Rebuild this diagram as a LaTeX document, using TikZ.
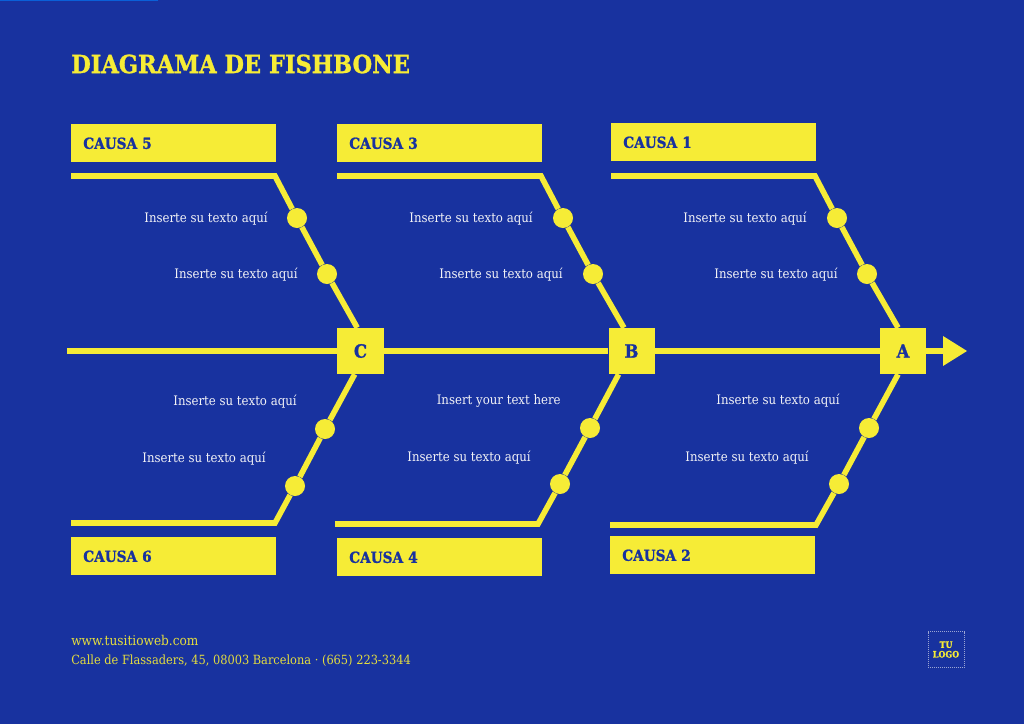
\documentclass[tikz,border=0pt]{standalone}
\usepackage{fontspec}
\setmainfont[BoldFeatures={FakeBold=1.2}]{DejaVu Serif Condensed}
\definecolor{fondo}{HTML}{18329F}
\definecolor{amarillo}{HTML}{F6EC36}
\definecolor{blanco}{HTML}{F2F2F6}
\tikzset{
  causebox/.style={fill=amarillo,text=fondo,anchor=north west,minimum height=.95cm,
    text width=4.525cm,minimum width=5.125cm,inner xsep=.3cm,inner ysep=0pt,align=left,
    font=\fontsize{10.8}{12}\selectfont\bfseries},
  headbox/.style={fill=amarillo,text=fondo,minimum size=1.15cm,inner sep=0pt,
    font=\fontsize{13}{14}\selectfont\bfseries},
  joint/.style={circle,fill=amarillo,minimum size=.5cm,inner sep=0pt},
  note/.style={text=blanco,anchor=east,inner sep=0pt,yshift=-.025cm,font=\fontsize{9.3}{10}\selectfont},
  foot/.style={text=amarillo!92!fondo,anchor=west,inner sep=0pt,yshift=-.025cm,font=\fontsize{9}{10}\selectfont},
  bone/.style={draw=amarillo,line width=.14cm,line join=miter}
}
\begin{document}
\begin{tikzpicture}[x=.025cm,y=-.025cm]
\useasboundingbox (0,0) rectangle (1024,724);
\fill[fondo] (0,0) rectangle (1024,724);
\fill[blue!50!cyan!60!fondo] (0,0) rectangle (158,1);

% title
\node[text=amarillo,anchor=west,inner sep=0pt,font=\fontsize{17.8}{20}\selectfont\bfseries] (title) at (71,64) {DIAGRAMA DE FISHBONE};

% heads
\node[headbox] (A) at (903,351) {A};
\node[headbox] (B) at (631.5,351) {B};
\node[headbox] (C) at (360.5,351) {C};

% the spine
\coordinate (tail) at (67,351);
\coordinate (tip) at (967,351);
\coordinate (tipbase) at (945,351);
\draw[bone] (tail)--(C);
\draw[bone] (C)--(B);
\draw[bone] (B)--(A);
\draw[bone] (A)--(tipbase);
\fill[amarillo] (943,336)--(tip)--(943,366)--cycle;

% causes
\node[causebox] (causa5) at (71,124) {CAUSA 5};
\node[causebox] (causa3) at (337,124) {CAUSA 3};
\node[causebox] (causa1) at (611,123) {CAUSA 1};
\node[causebox] (causa6) at (71,537) {CAUSA 6};
\node[causebox] (causa4) at (337,538) {CAUSA 4};
\node[causebox] (causa2) at (610,536) {CAUSA 2};

% the joints
\node[joint] (j5a) at (297,218) {};
\node[joint] (j5b) at (327,274) {};
\node[joint] (j3a) at (563,218) {};
\node[joint] (j3b) at (593,274) {};
\node[joint] (j1a) at (837,218) {};
\node[joint] (j1b) at (867,274) {};
\node[joint] (j6a) at (325,429) {};
\node[joint] (j6b) at (295,486) {};
\node[joint] (j4a) at (590,428) {};
\node[joint] (j4b) at (560,484) {};
\node[joint] (j2a) at (869,428) {};
\node[joint] (j2b) at (839,484) {};

% upper bones
\coordinate (s5) at (71,176); \coordinate (k5) at (275,176);
\coordinate (s3) at (337,176); \coordinate (k3) at (541,176);
\coordinate (s1) at (611,176); \coordinate (k1) at (815,176);
\draw[bone] (s5)--(k5)--(j5a);
\draw[bone] (j5a)--(j5b);
\draw[bone] (j5b)--(C.98);
\draw[bone] (s3)--(k3)--(j3a);
\draw[bone] (j3a)--(j3b);
\draw[bone] (j3b)--(B.108);
\draw[bone] (s1)--(k1)--(j1a);
\draw[bone] (j1a)--(j1b);
\draw[bone] (j1b)--(A.102);

% lower bones
\coordinate (s6) at (71,523); \coordinate (k6) at (275,523);
\coordinate (s4) at (335,524); \coordinate (k4) at (538,524);
\coordinate (s2) at (610,525); \coordinate (k2) at (816,525);
\draw[bone] (s6)--(k6)--(j6b);
\draw[bone] (j6b)--(j6a);
\draw[bone] (j6a)--(C.256);
\draw[bone] (s4)--(k4)--(j4b);
\draw[bone] (j4b)--(j4a);
\draw[bone] (j4a)--(B.241);
\draw[bone] (s2)--(k2)--(j2b);
\draw[bone] (j2b)--(j2a);
\draw[bone] (j2a)--(A.258);

% the notes
\node[note] (n5a) at (268,218) {Inserte su texto aquí};
\node[note] (n5b) at (298,274) {Inserte su texto aquí};
\node[note] (n3a) at (533,218) {Inserte su texto aquí};
\node[note] (n3b) at (563,274) {Inserte su texto aquí};
\node[note] (n1a) at (807,218) {Inserte su texto aquí};
\node[note] (n1b) at (838,274) {Inserte su texto aquí};
\node[note] (n6a) at (297,401) {Inserte su texto aquí};
\node[note] (n6b) at (266,458) {Inserte su texto aquí};
\node[note] (n4a) at (561,400) {Insert your text here};
\node[note] (n4b) at (531,457) {Inserte su texto aquí};
\node[note] (n2a) at (840,400) {Inserte su texto aquí};
\node[note] (n2b) at (809,457) {Inserte su texto aquí};

% footer
\node[foot,font=\fontsize{9.6}{10}\selectfont] (web) at (71,639) {www.tusitioweb.com};
\node[foot] (addr) at (71,660) {Calle de Flassaders, 45, 08003 Barcelona · (665) 223-3344};

% logo
\node[draw=blanco!60!fondo,densely dotted,minimum size=.89cm,inner sep=0pt,align=center,text=amarillo,
  font=\fontsize{6.3}{6.8}\selectfont\bfseries] (logo) at (946,649.5) {TU\\LOGO};
\end{tikzpicture}
\end{document}
